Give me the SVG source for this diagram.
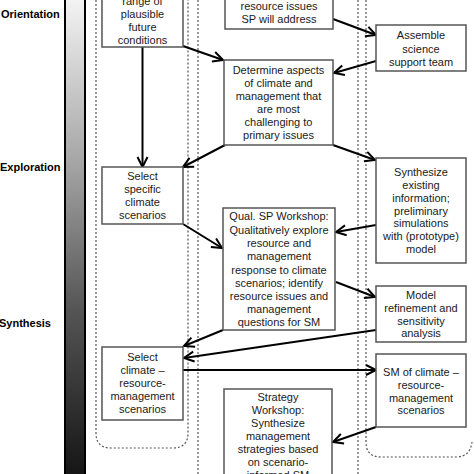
<svg xmlns="http://www.w3.org/2000/svg" width="474" height="474" viewBox="0 0 474 474">
<defs>
<linearGradient id="bar" x1="0" y1="0" x2="0" y2="1">
<stop offset="0" stop-color="#f4f4f4"/>
<stop offset="0.35" stop-color="#a4a4a4"/>
<stop offset="0.65" stop-color="#555"/>
<stop offset="1" stop-color="#151515"/>
</linearGradient>
<marker id="arr" markerUnits="userSpaceOnUse" markerWidth="14" markerHeight="14" refX="11" refY="6" orient="auto">
<path d="M1,1 L11,6 L1,11" fill="none" stroke="#000" stroke-width="2"/>
</marker>
</defs>
<style>
.box{fill:#fff;stroke:#555;stroke-width:1.5}
.t{font-family:"Liberation Sans",Arial,sans-serif;font-size:11px;fill:#1a1a1a;text-anchor:middle}
.lab{font-family:"Liberation Sans",Arial,sans-serif;font-size:11px;font-weight:bold;fill:#000}
.dot{fill:none;stroke:#555;stroke-width:1.2;stroke-dasharray:2 2}
.c{fill:none;stroke:#000;stroke-width:2;marker-end:url(#arr)}
</style>
<rect width="474" height="474" fill="#fff"/>
<g id="phase-bar">
<rect x="65" y="-2" width="20" height="478" fill="url(#bar)" stroke="#000" stroke-width="2"/>
</g>
<g id="labels">
<text class="lab" x="1" y="18">Orientation</text>
<text class="lab" x="0" y="171">Exploration</text>
<text class="lab" x="-1" y="327">Synthesis</text>
</g>
<g id="regions">
<path class="dot" d="M96,0 V433 Q96,448 111,448 H173 Q188,448 188,433 V0"/>
<path class="dot" d="M198,0 V474"/>
<path class="dot" d="M358,0 V474"/>
<path class="dot" d="M366,0 V442 Q366,457 381,457 H456 Q470,457 472,442"/>
</g>
<g id="connectors">
<path class="c" d="M142.5,47 L142.5,167"/>
<path class="c" d="M183,46 L223,60"/>
<path class="c" d="M333,19 L376,35"/>
<path class="c" d="M376,61 L334,73"/>
<path class="c" d="M225,145 L183,167"/>
<path class="c" d="M333,145 L375,160"/>
<path class="c" d="M183,224 L222,248"/>
<path class="c" d="M376,225 L336,232"/>
<path class="c" d="M336,282 L375,297"/>
<path class="c" d="M223,330 L184,346"/>
<path class="c" d="M376,330 L184,358"/>
<path class="c" d="M183,370 L376,370"/>
<path class="c" d="M376,427 L333,442"/>
</g>
<g id="n-range">
<rect class="box" x="102" y="-30" width="81" height="77"/>
<text class="t" x="142.5" y="5">range of</text>
<text class="t" x="142.5" y="18">plausible</text>
<text class="t" x="142.5" y="31">future</text>
<text class="t" x="142.5" y="44">conditions</text>
</g>
<g id="n-issues">
<rect class="box" x="225" y="-30" width="108" height="59"/>
<text class="t" x="279" y="10">resource issues</text>
<text class="t" x="279" y="23">SP will address</text>
</g>
<g id="n-team">
<rect class="box" x="376" y="25" width="90" height="46"/>
<text class="t" x="421" y="39">Assemble</text>
<text class="t" x="421" y="52.5">science</text>
<text class="t" x="421" y="66">support team</text>
</g>
<g id="n-aspects">
<rect class="box" x="224" y="60" width="109" height="85"/>
<text class="t" x="278.5" y="74">Determine aspects</text>
<text class="t" x="278.5" y="87">of climate and</text>
<text class="t" x="278.5" y="100">management that</text>
<text class="t" x="278.5" y="113">are most</text>
<text class="t" x="278.5" y="126">challenging to</text>
<text class="t" x="278.5" y="139">primary issues</text>
</g>
<g id="n-specific">
<rect class="box" x="102" y="167" width="81" height="57"/>
<text class="t" x="142.5" y="180">Select</text>
<text class="t" x="142.5" y="193">specific</text>
<text class="t" x="142.5" y="206">climate</text>
<text class="t" x="142.5" y="219">scenarios</text>
</g>
<g id="n-synthesize">
<rect class="box" x="376" y="158" width="90" height="105"/>
<text class="t" x="421" y="176">Synthesize</text>
<text class="t" x="421" y="189">existing</text>
<text class="t" x="421" y="201.5">information;</text>
<text class="t" x="421" y="214.5">preliminary</text>
<text class="t" x="421" y="227">simulations</text>
<text class="t" x="421" y="240">with (prototype)</text>
<text class="t" x="421" y="253">model</text>
</g>
<g id="n-qual">
<rect class="box" x="223" y="208" width="112" height="122"/>
<text class="t" x="279" y="220">Qual.  SP Workshop:</text>
<text class="t" x="279" y="233.5">Qualitatively explore</text>
<text class="t" x="279" y="247">resource and</text>
<text class="t" x="279" y="260">management</text>
<text class="t" x="279" y="273.5">response to climate</text>
<text class="t" x="279" y="287">scenarios; identify</text>
<text class="t" x="279" y="300">resource issues and</text>
<text class="t" x="279" y="313">management</text>
<text class="t" x="279" y="326">questions for SM</text>
</g>
<g id="n-model">
<rect class="box" x="376" y="286" width="90" height="56"/>
<text class="t" x="421" y="299">Model</text>
<text class="t" x="421" y="312">refinement and</text>
<text class="t" x="421" y="324.5">sensitivity</text>
<text class="t" x="421" y="337">analysis</text>
</g>
<g id="n-select-crm">
<rect class="box" x="102" y="347" width="81" height="73"/>
<text class="t" x="142.5" y="361">Select</text>
<text class="t" x="142.5" y="374">climate –</text>
<text class="t" x="142.5" y="387">resource-</text>
<text class="t" x="142.5" y="400">management</text>
<text class="t" x="142.5" y="413">scenarios</text>
</g>
<g id="n-sm">
<rect class="box" x="376" y="354" width="90" height="73"/>
<text class="t" x="421" y="376">SM of climate –</text>
<text class="t" x="421" y="389">resource-</text>
<text class="t" x="421" y="402">management</text>
<text class="t" x="421" y="414">scenarios</text>
</g>
<g id="n-strategy">
<rect class="box" x="224" y="389" width="108" height="110"/>
<text class="t" x="278" y="401">Strategy</text>
<text class="t" x="278" y="414">Workshop:</text>
<text class="t" x="278" y="427">Synthesize</text>
<text class="t" x="278" y="440">management</text>
<text class="t" x="278" y="453">strategies based</text>
<text class="t" x="278" y="466">on scenario-</text>
<text class="t" x="278" y="479">informed SM</text>
</g>
</svg>
